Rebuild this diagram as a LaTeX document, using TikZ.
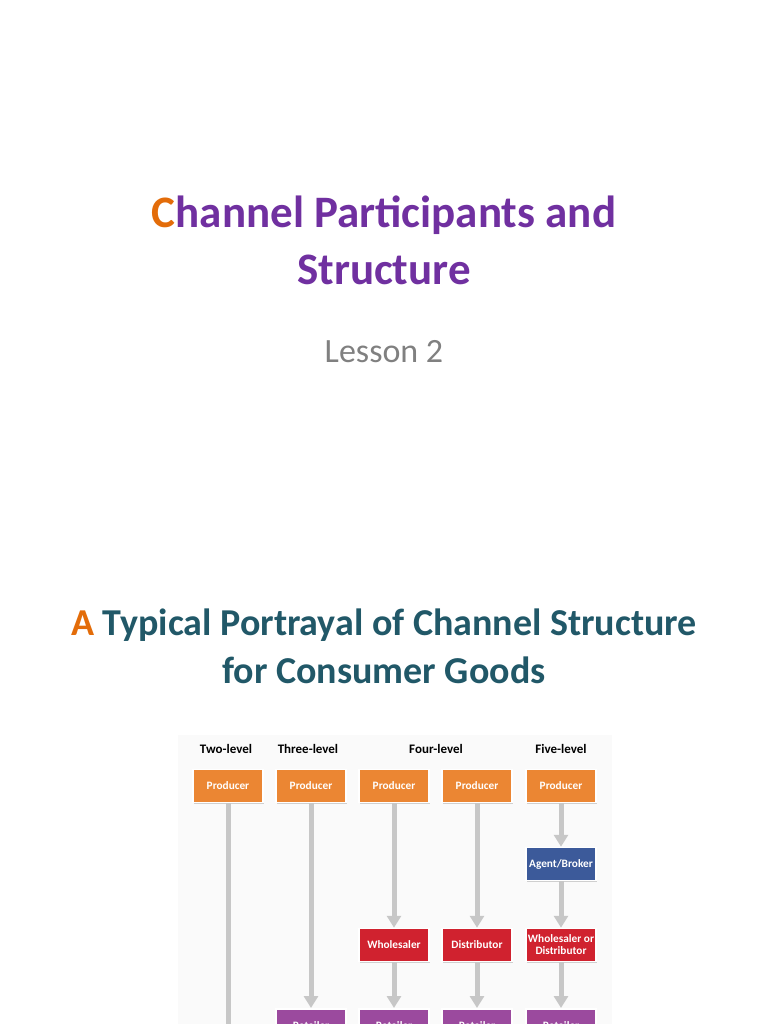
\documentclass[tikz,border=0pt]{standalone}
\usepackage{fontspec}
\setmainfont{Carlito}
\usetikzlibrary{arrows.meta,shadows}
\definecolor{purp}{HTML}{7030A0}
\definecolor{orng}{HTML}{E36C09}
\definecolor{teal2}{HTML}{215868}
\definecolor{bxor}{HTML}{EB8633}
\definecolor{bxbl}{HTML}{3C5A9A}
\definecolor{bxrd}{HTML}{D0222F}
\definecolor{bxpu}{HTML}{9B4A9E}
\begin{document}
\begin{tikzpicture}[x=1pt,y=-1pt,
  box/.style={draw=white,line width=1.5pt,minimum width=70pt,minimum height=33pt,text=white,font=\bfseries\fontsize{11.3}{12}\selectfont,align=center,inner sep=1pt,drop shadow={shadow xshift=1pt,shadow yshift=-1pt,opacity=0.35}},
  lvl/.style={font=\bfseries\fontsize{13}{14}\selectfont},
  arr/.style={draw=black!22,line width=5pt,-{Triangle[length=12pt,width=14pt]}}]
\useasboundingbox (0,0) rectangle (768,1024);
\fill[black!2] (178,735) rectangle (612,1024);
\node[font=\bfseries\fontsize{45}{48}\selectfont,text=purp] (t1) at (384,215) {\textcolor{orng}{C}hannel Participants and};
\node[font=\bfseries\fontsize{45}{48}\selectfont,text=purp] (t2) at (384,270) {Structure};
\node[font=\fontsize{34}{36}\selectfont,text=black!50] (ls) at (384,352) {Lesson 2};
\node[font=\bfseries\fontsize{38}{40}\selectfont,text=teal2] (t3) at (384,625) {\textcolor{orng}{A} Typical Portrayal of Channel Structure};
\node[font=\bfseries\fontsize{38}{40}\selectfont,text=teal2] (t4) at (384,670) {for Consumer Goods};
\node[lvl] (l1) at (226,749) {Two-level};
\node[lvl] (l2) at (308,749) {Three-level};
\node[lvl] (l3) at (436,749) {Four-level};
\node[lvl] (l4) at (561,749) {Five-level};
\foreach \i/\x in {1/228,2/311,3/394,4/477,5/561}
  \node[box,fill=bxor] (p\i) at (\x,786) {Producer};
\node[box,fill=bxbl] (ag) at (561,864) {Agent/Broker};
\node[box,fill=bxrd] (w3) at (394,945) {Wholesaler};
\node[box,fill=bxrd] (w4) at (477,945) {Distributor};
\node[box,fill=bxrd] (w5) at (561,945) {Wholesaler or\\Distributor};
\foreach \i/\x in {2/311,3/394,4/477,5/561}
  \node[box,fill=bxpu,anchor=north] (r\i) at (\x,1008) {Retailer};
\coordinate (e1) at (228,1030);
\draw[draw=black!22,line width=5pt] (p1) -- (e1);
\draw[arr] (p2) -- (r2);
\draw[arr] (p3) -- (w3);
\draw[arr] (p4) -- (w4);
\draw[arr] (p5) -- (ag);
\draw[arr] (ag) -- (w5);
\draw[arr] (w3) -- (r3);
\draw[arr] (w4) -- (r4);
\draw[arr] (w5) -- (r5);
\end{tikzpicture}
\end{document}
